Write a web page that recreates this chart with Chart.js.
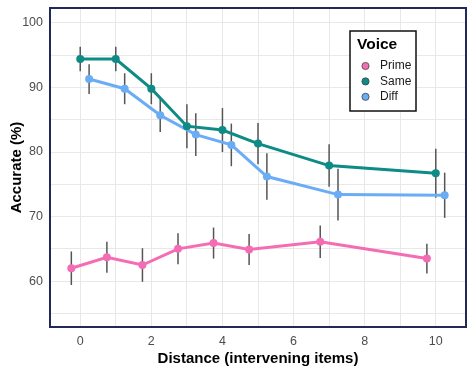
<!DOCTYPE html>
<html>
<head>
<meta charset="utf-8">
<script src="https://cdn.jsdelivr.net/npm/chart.js@4.4.1/dist/chart.umd.min.js"></script>
<style>
  html, body { margin: 0; padding: 0; background: #fff; }
  #wrap { width: 474px; height: 368px; }
</style>
</head>
<body>
<div id="wrap"><canvas id="chart"></canvas></div>
<script>
// distances, dodged per voice
const primeX = [-0.25, 0.75, 1.75, 2.75, 3.75, 4.75, 6.75, 9.75];
const sameX  = [0, 1, 2, 3, 4, 5, 7, 10];
const diffX  = [0.25, 1.25, 2.25, 3.25, 4.25, 5.25, 7.25, 10.25];

const primeY = [62.0, 63.7, 62.5, 65.0, 65.9, 64.9, 66.1, 63.5];
const sameY  = [94.4, 94.4, 89.8, 84.0, 83.4, 81.3, 77.9, 76.7];
const diffY  = [91.3, 89.8, 85.7, 82.7, 81.1, 76.2, 73.4, 73.3];

const primeErr = [2.6, 2.4, 2.6, 2.4, 2.4, 2.4, 2.5, 2.3];
const sameErr  = [1.9, 1.9, 2.4, 3.4, 3.4, 3.2, 3.3, 3.8];
const diffErr  = [2.3, 2.4, 2.6, 3.3, 3.3, 3.6, 4.0, 3.5];

const voices = ['Prime', 'Same', 'Diff'];
const colors = ['#F46DB4', '#0F8B85', '#6AADF5'];

const toPts = (xs, ys) => xs.map((x, i) => ({ x: x, y: ys[i] }));

function series(i, xs, ys, err) {
  return {
    label: voices[i],
    data: toPts(xs, ys),
    err: err,
    showLine: true,
    borderColor: colors[i],
    backgroundColor: colors[i],
    borderWidth: 3,
    pointRadius: 4,
    pointHoverRadius: 4,
    pointBorderWidth: 0
  };
}

// error bars, drawn under the points
const errorBars = {
  id: 'errorBars',
  beforeDatasetsDraw(chart) {
    const { ctx, scales: { x, y } } = chart;
    ctx.save();
    ctx.strokeStyle = '#555555';
    ctx.lineWidth = 1.5;
    chart.data.datasets.forEach(ds => {
      ds.data.forEach((p, i) => {
        const px = x.getPixelForValue(p.x);
        ctx.beginPath();
        ctx.moveTo(px, y.getPixelForValue(p.y - ds.err[i]));
        ctx.lineTo(px, y.getPixelForValue(p.y + ds.err[i]));
        ctx.stroke();
      });
    });
    ctx.restore();
  }
};

// panel border + legend box
const frame = {
  id: 'frame',
  afterDraw(chart) {
    const { ctx, chartArea: a } = chart;
    ctx.save();
    ctx.strokeStyle = '#22285A';
    ctx.lineWidth = 2;
    ctx.strokeRect(a.left, a.top, a.right - a.left, a.bottom - a.top);

    ctx.fillStyle = '#fff';
    ctx.fillRect(350, 31, 66, 80);
    ctx.strokeStyle = '#111';
    ctx.lineWidth = 1.5;
    ctx.strokeRect(350, 31, 66, 80);

    ctx.fillStyle = '#000';
    ctx.font = 'bold 15.5px "Liberation Sans", Arial, sans-serif';
    ctx.textBaseline = 'middle';
    ctx.fillText('Voice', 357, 45);

    ctx.font = '12px "Liberation Sans", Arial, sans-serif';
    chart.data.datasets.forEach((ds, i) => {
      const cy = 66 + i * 15.4;
      ctx.beginPath();
      ctx.arc(365.5, cy, 3.6, 0, Math.PI * 2);
      ctx.fillStyle = ds.backgroundColor;
      ctx.fill();
      ctx.lineWidth = 0.8;
      ctx.strokeStyle = '#444';
      ctx.stroke();
      ctx.fillStyle = '#1a1a1a';
      ctx.fillText(ds.label, 380, cy);
    });
    ctx.restore();
  }
};

const tickFont = { family: '"Liberation Sans", Arial, sans-serif', size: 12.5 };
const titleFont = { family: '"Liberation Sans", Arial, sans-serif', size: 15, weight: 'bold' };

new Chart(document.getElementById('chart'), {
  type: 'scatter',
  data: {
    datasets: [
      series(0, primeX, primeY, primeErr),
      series(1, sameX, sameY, sameErr),
      series(2, diffX, diffY, diffErr)
    ]
  },
  options: {
    responsive: true,
    maintainAspectRatio: false,
    animation: false,
    layout: { padding: { top: 8, right: 8, left: 8, bottom: 0 } },
    plugins: { legend: { display: false }, tooltip: { enabled: false } },
    scales: {
      x: {
        type: 'linear',
        min: -0.85,
        max: 10.85,
        afterBuildTicks(s) {
          s.ticks = [0, 1, 2, 3, 4, 5, 6, 7, 8, 9, 10].map(v => ({ value: v }));
        },
        afterFit(s) { s.height = 41; s.paddingLeft = 0; s.paddingRight = 0; },
        grid: { color: '#E8E8E8', lineWidth: 1, drawTicks: false },
        border: { display: false },
        ticks: {
          font: tickFont,
          color: '#4D4D4D',
          padding: 7,
          maxRotation: 0,
          callback: v => (v % 2 === 0 ? v : '')
        },
        title: { display: true, text: 'Distance (intervening items)', font: titleFont, color: '#000', padding: { top: 2, bottom: 0 } }
      },
      y: {
        min: 52.9,
        max: 102.3,
        afterBuildTicks(s) {
          s.ticks = [55, 60, 65, 70, 75, 80, 85, 90, 95, 100].map(v => ({ value: v }));
        },
        afterFit(s) { s.width = 42; s.paddingTop = 0; s.paddingBottom = 0; },
        grid: { color: '#E8E8E8', lineWidth: 1, drawTicks: false },
        border: { display: false },
        ticks: {
          font: tickFont,
          color: '#4D4D4D',
          padding: 7,
          callback: v => (v % 10 === 0 ? v : '')
        },
        title: { display: true, text: 'Accurate (%)', font: titleFont, color: '#000', padding: { top: 0, bottom: 0 } }
      }
    }
  },
  plugins: [errorBars, frame]
});
</script>
</body>
</html>
